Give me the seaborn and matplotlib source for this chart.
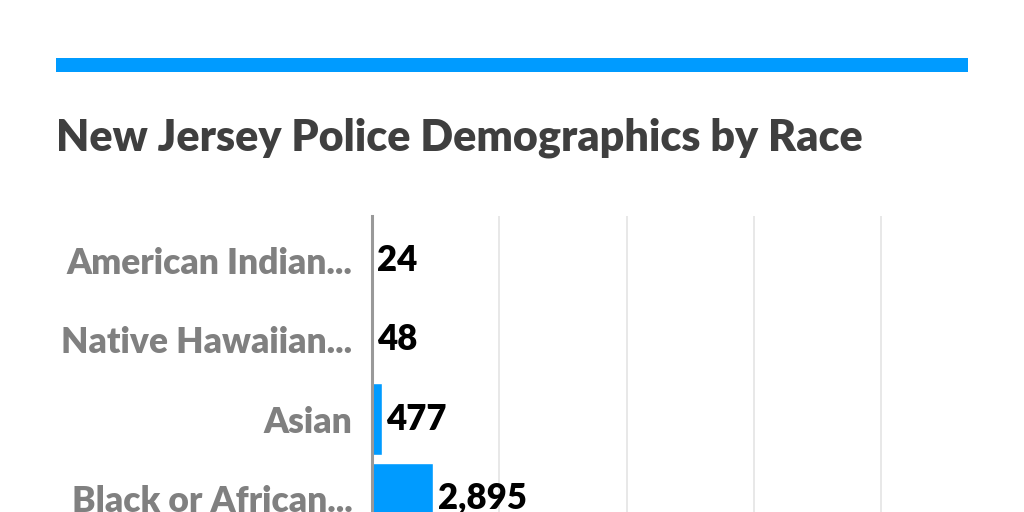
import matplotlib
matplotlib.use("Agg")
import matplotlib.pyplot as plt
import seaborn as sns
import pandas as pd

# Values (chart is cropped after the 4th row)
categories = ["American Indian...", "Native Hawaiian...", "Asian", "Black or African..."]
officers = [24, 48, 477, 2895]
grid_ticks = [0, 6000, 12000, 18000, 24000]

BLUE = "#009BFF"

sns.set_theme(style="white")
plt.rcParams["font.family"] = ["Lato", "DejaVu Sans"]

df = pd.DataFrame({"race": categories, "officers": officers})

W, H = 1024, 512
fig = plt.figure(figsize=(W / 100, H / 100), dpi=100)
fig.patch.set_facecolor("white")

# top accent stripe
fig.add_artist(plt.Rectangle((56 / W, 1 - 72 / H), (968 - 56) / W, 14 / H,
                             transform=fig.transFigure, color=BLUE, lw=0))

# title
fig.text(56 / W, 1 - 151 / H, "New Jersey Police Demographics by Race",
         fontsize=31, fontweight="heavy", color="#3f3f3f", ha="left", va="baseline")

# axes runs past the bottom edge of the figure, like the cropped reference
ax = fig.add_axes([372 / W, 1 - 578 / H, (968 - 372) / W, (578 - 216) / H])
sns.barplot(data=df, x="officers", y="race", color=BLUE, saturation=1,
            width=0.9, ax=ax, zorder=3)

ax.set_xlim(0, 28087)
ax.set_ylim(4.0, -0.557)
ax.set_xticks(grid_ticks)
ax.xaxis.grid(True, color="#e6e6e6", lw=1.3, zorder=0)
ax.yaxis.grid(False)
ax.set_xlabel("")
ax.set_ylabel("")
ax.tick_params(axis="x", labelbottom=False, length=0)
ax.tick_params(axis="y", length=0, pad=14, labelsize=25.5, labelcolor="#808080")
for lab in ax.get_yticklabels():
    lab.set_fontweight("heavy")

for side in ["top", "right", "bottom"]:
    ax.spines[side].set_visible(False)
ax.spines["left"].set_color("#999999")
ax.spines["left"].set_linewidth(2.2)
ax.spines["left"].set_zorder(4)

ax.bar_label(ax.containers[0], labels=[f"{v:,}" for v in officers], padding=3,
             fontsize=25, fontweight="heavy", color="black")

fig.savefig("out.png", dpi=100)
